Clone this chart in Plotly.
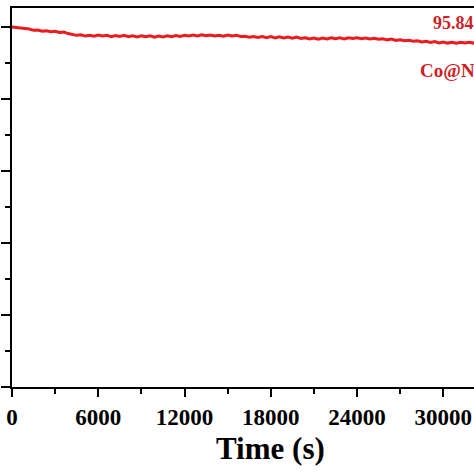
import plotly.graph_objects as go

time_s = list(range(0, 36001, 300))
retention = [
    100.00, 99.90, 99.75, 99.50, 99.45, 99.10, 99.20, 98.85, 99.00, 98.70,
    98.85, 98.50, 98.60, 98.20, 98.05, 97.70, 97.85, 97.50, 97.75, 97.45,
    97.80, 97.50, 97.70, 97.35, 97.65, 97.40, 97.70, 97.30, 97.60, 97.25,
    97.55, 97.30, 97.60, 97.20, 97.50, 97.25, 97.55, 97.30, 97.65, 97.40,
    97.70, 97.50, 97.80, 97.55, 97.85, 97.60, 97.80, 97.50, 97.75, 97.45,
    97.80, 97.50, 97.75, 97.40, 97.45, 97.15, 97.40, 97.10, 97.35, 97.05,
    97.35, 97.00, 97.30, 96.95, 97.25, 96.90, 97.20, 96.85, 97.05, 96.70,
    96.95, 96.65, 96.95, 96.70, 97.05, 96.75, 97.00, 96.70, 97.05, 96.80,
    97.00, 96.75, 96.95, 96.70, 96.90, 96.60, 96.75, 96.45, 96.65, 96.30,
    96.50, 96.20, 96.35, 96.05, 96.20, 95.85, 96.05, 95.70, 95.95, 95.60,
    95.85, 95.55, 95.80, 95.50, 95.75, 95.55, 95.80, 95.55, 95.85, 95.60,
    95.90, 95.65, 95.90, 95.70, 95.95, 95.70, 95.90, 95.75, 95.90, 95.80,
    95.84,
]
x_ticks = [0, 6000, 12000, 18000, 24000, 30000, 36000]
y_ticks = [0, 20, 40, 60, 80, 100]
final_label = "95.84%"
sample_label = "Co@NSC"

font_family = "Liberation Serif, Times New Roman, serif"
red_line = "#ea1c1f"
red_text = "#cc1f26"

fig = go.Figure()
fig.add_trace(go.Scatter(
    x=time_s, y=retention, mode="lines",
    line=dict(color=red_line, width=3),
    showlegend=False, hoverinfo="skip",
))

fig.update_layout(
    width=474, height=474,
    margin=dict(l=12, r=0, t=8, b=87),
    paper_bgcolor="white", plot_bgcolor="white",
    font=dict(family=font_family, color="black"),
)

fig.update_xaxes(
    range=[0, 32130],
    tickvals=x_ticks,
    ticktext=[str(v) for v in x_ticks],
    ticks="outside", ticklen=8, tickwidth=2, tickcolor="black",
    minor=dict(dtick=3000, ticks="outside", ticklen=5, tickwidth=2, tickcolor="black"),
    showline=True, linewidth=2, linecolor="black", mirror=True,
    showgrid=False, zeroline=False,
    tickfont=dict(family=font_family, size=23, color="black", weight="bold"),
)
fig.update_yaxes(
    range=[0, 105.3],
    tickvals=y_ticks,
    ticks="outside", ticklen=9, tickwidth=2, tickcolor="black",
    minor=dict(dtick=10, ticks="outside", ticklen=5, tickwidth=2, tickcolor="black"),
    showline=True, linewidth=2, linecolor="black", mirror=False,
    showgrid=False, zeroline=False,
    showticklabels=False,
)

fig.add_annotation(
    xref="paper", yref="paper", x=(270 - 12) / 462, y=(387 - 448) / 379,
    text="<b>Time (s)</b>", showarrow=False, xanchor="center", yanchor="middle",
    font=dict(family=font_family, size=31, color="black"),
)
fig.add_annotation(
    xref="paper", yref="paper", x=(431 - 12) / 462, y=(387 - 23) / 379,
    text="<b>" + final_label + "</b>", showarrow=False, xanchor="left", yanchor="middle",
    font=dict(family=font_family, size=18, color=red_text),
)
fig.add_annotation(
    xref="paper", yref="paper", x=(418 - 12) / 462, y=(387 - 70) / 379,
    text="<b>" + sample_label + "</b>", showarrow=False, xanchor="left", yanchor="middle",
    font=dict(family=font_family, size=19, color=red_text),
)

fig.write_html("out.html")
